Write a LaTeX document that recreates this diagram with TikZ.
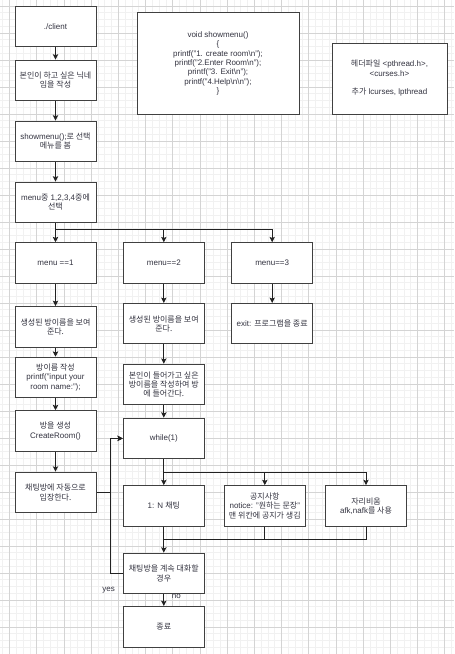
\documentclass[tikz,border=0pt]{standalone}
\usepackage{fontspec}
\setmainfont{Liberation Sans}
\newfontfamily\krf{Noto Sans CJK KR}[Scale=1.0]
\newcommand\hk[1]{{\krf #1}}
\usetikzlibrary{arrows.meta}
\definecolor{gridmin}{HTML}{F1F1F1}
\definecolor{gridmaj}{HTML}{D4D4D4}
\definecolor{boxc}{HTML}{404040}
\definecolor{linec}{HTML}{222222}
\definecolor{txtc}{HTML}{333340}
\tikzset{
  box/.style={draw=boxc, line width=0.75pt, fill=white, minimum width=60.75pt,
    minimum height=30.4pt, inner sep=0.5pt, align=center, text=txtc,
    font=\fontsize{6}{7}\selectfont},
  lbl/.style={inner sep=0pt, text=txtc, font=\fontsize{6}{7}\selectfont},
  conn/.style={draw=linec, line width=0.7pt},
  arr/.style={conn, -{Stealth[length=4pt,width=4pt,inset=0.8pt]}},
}
\begin{document}
\begin{tikzpicture}[x=0.75pt,y=-0.75pt]
\useasboundingbox (0,0) rectangle (454,654);
\fill[white] (0,0) rectangle (454,654);
\begin{scope}
\clip (0,0) rectangle (454,654);
\foreach \k in {0,...,66} \draw[gridmin, line width=0.5pt] ({2.8+6.8*\k},0) -- ({2.8+6.8*\k},654);
\foreach \k in {-1,...,96} \draw[gridmin, line width=0.5pt] (0,{6+6.75*\k}) -- (454,{6+6.75*\k});
\foreach \k in {0,...,16} \draw[gridmaj, line width=0.6pt] ({9.6+27.2*\k},0) -- ({9.6+27.2*\k},654);
\foreach \k in {0,...,24} \draw[gridmaj, line width=0.6pt] (0,{6+27*\k}) -- (454,{6+27*\k});
\end{scope}

% nodes
\node[box] (client) at (55.5,26.3) {./client};
\node[box] (nick) at (55.5,80.3) {\hk{본인이 하고 싶은 닉네}\\\hk{임을 작성}};
\node[box] (show) at (55.5,141.3) {showmenu();\hk{로 선택}\\\hk{메뉴를 봄}};
\node[box] (sel) at (55.5,202.3) {menu\hk{중} 1,2,3,4\hk{중에}\\\hk{선택}};
\node[box] (m1) at (55.5,263) {menu ==1};
\node[box] (m2) at (163.8,263) {menu==2};
\node[box] (m3) at (272.2,263) {menu==3};
\node[box] (g1) at (55.5,326.8) {\hk{생성된 방이름을 보여}\\\hk{준다.}};
\node[box] (g2) at (163.8,323.7) {\hk{생성된 방이름을 보여}\\\hk{준다.}};
\node[box] (ex) at (272.2,323.7) {exit: \hk{프로그램을 종료}};
\node[box] (rn) at (55.5,377.5) {\hk{방이름 작성}\\printf("input your\\room name:");};
\node[box] (enter) at (163.8,384.5) {\hk{본인이 들어가고 싶은}\\\hk{방이름을 작성하여 방}\\\hk{에 들어간다.}};
\node[box] (cr) at (55.5,431) {\hk{방을 생성}\\CreateRoom()};
\node[box] (wh) at (163.8,438.4) {while(1)};
\node[box] (au) at (55.5,492.4) {\hk{채팅방에 자동으로}\\\hk{입장한다.}};
\node[box] (nc) at (163.8,505.9) {1: N \hk{채팅}};
\node[box] (notice) at (264.8,505.9) {\hk{공지사항}\\notice: "\hk{원하는 문장}"\\\hk{맨 위칸에 공지가 생김}};
\node[box] (afk) at (366,505.9) {\hk{자리비움}\\afk,nafk\hk{를 사용}};
\node[box] (co) at (163.8,573.4) {\hk{채팅방을 계속 대화할}\\\hk{경우}};
\node[box] (fin) at (163.8,626.8) {\hk{종료}};
\node[box, minimum width=121.5pt, minimum height=76pt] (code) at (218,63.4)
  {void showmenu()\\\{\\printf("1. create room\textbackslash n");\\printf("2.Enter Room\textbackslash n");\\printf("3. Exit\textbackslash n");\\printf("4.Help\textbackslash n\textbackslash n");\\\}};
\node[box, minimum width=86.25pt, minimum height=53.25pt] (hdr) at (389.5,78.5)
  {\hk{헤더파일} <pthread.h>,\\<curses.h>\\[7pt]\hk{추가} lcurses, lpthread};
\node[lbl] (yes) at (108.7,589.7) {yes};
\node[lbl] (nol) at (176.3,596.3) {no};

% helper coordinates
\coordinate (s1) at (55.5,229.3);
\coordinate (lp) at (110,438.4);
\coordinate (s2) at (163.8,472.3);
\coordinate (mg) at (163.8,539.3);

% connectors
\draw[arr] (client) -- (nick);
\draw[arr] (nick) -- (show);
\draw[arr] (show) -- (sel);
\draw[arr] (sel) -- (m1);
\draw[arr] (s1) -| (m2.north);
\draw[arr] (s1) -| (m3.north);
\draw[arr] (m1) -- (g1);
\draw[arr] (g1) -- (rn);
\draw[arr] (rn) -- (cr);
\draw[arr] (cr) -- (au);
\draw[arr] (m2) -- (g2);
\draw[arr] (g2) -- (enter);
\draw[arr] (enter) -- (wh);
\draw[arr] (m3) -- (ex);
\draw[arr] (au.east) -| (lp) -- (wh.west);
\draw[arr] (co.west) -| (lp) -- (wh.west);
\draw[arr] (wh) -- (nc);
\draw[arr] (s2) -| (notice.north);
\draw[arr] (s2) -| (afk.north);
\draw[arr] (nc) -- (co);
\draw[conn] (notice.south) |- (mg);
\draw[conn] (afk.south) |- (mg);
\draw[arr] (co) -- (fin);
\end{tikzpicture}
\end{document}
